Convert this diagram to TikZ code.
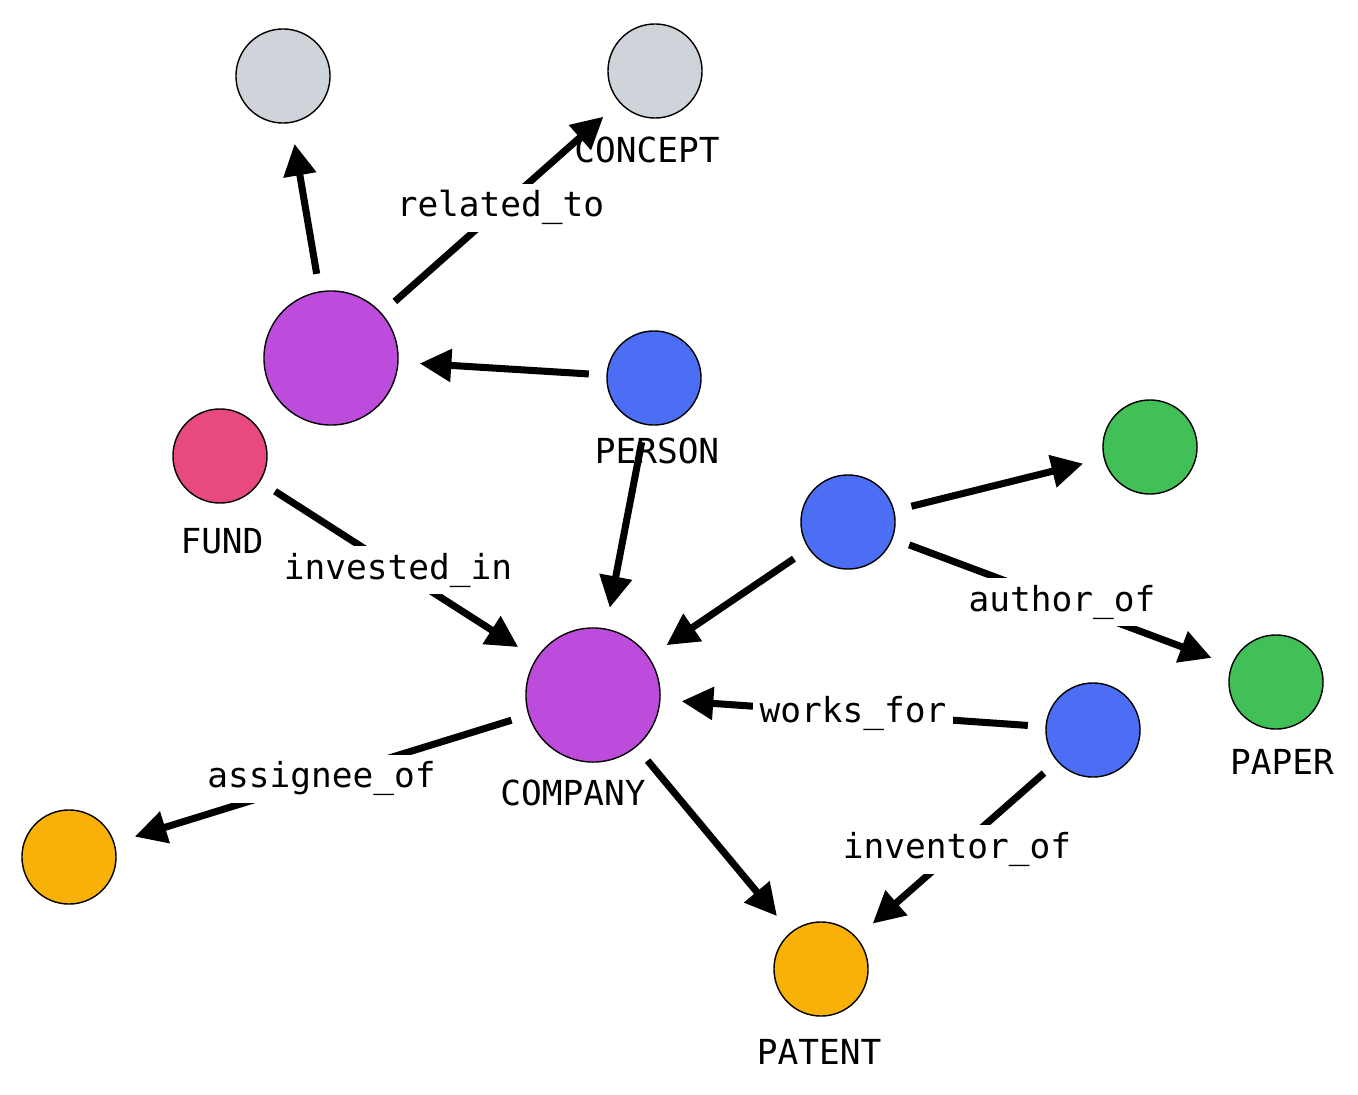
\documentclass[tikz,border=0pt]{standalone}
\usepackage{fontspec}
\setmonofont{DejaVu Sans Mono}
\usetikzlibrary{arrows.meta}
\definecolor{cgray}{HTML}{CFD4DA}
\definecolor{cpurple}{HTML}{BD4BDB}
\definecolor{cblue}{HTML}{4B6EF5}
\definecolor{cred}{HTML}{E84A7E}
\definecolor{cgreen}{HTML}{41C057}
\definecolor{corange}{HTML}{F9B007}
\tikzset{
  ent/.style={circle, draw=black, thin, minimum size=0.94cm, inner sep=0pt},
  big/.style={ent, minimum size=1.34cm},
  tag/.style={font=\ttfamily\fontsize{9.8}{12}\selectfont, inner sep=1pt},
  lbl/.style={tag, fill=white, inner sep=2pt},
  rel/.style={line width=2pt, -{Triangle[length=9pt,width=9pt]},
    shorten <=5pt, shorten >=6pt}
}
\begin{document}
\begin{tikzpicture}[x=0.01cm,y=-0.01cm]
    \useasboundingbox (0,0) rectangle (1358,1094);

    % entities
    \node[ent, fill=cgray] (topic) at (283,76) {};
    \node[ent, fill=cgray] (concept) at (655,71) {};
    \node[big, fill=cpurple] (lab) at (331,358) {};
    \node[ent, fill=cblue] (person) at (654,378) {};
    \node[ent, fill=cred] (fund) at (220,456) {};
    \node[big, fill=cpurple] (company) at (593,695) {};
    \node[ent, fill=cblue] (author) at (848,522) {};
    \node[ent, fill=cgreen] (venue) at (1150,447) {};
    \node[ent, fill=cgreen] (paper) at (1276,682) {};
    \node[ent, fill=cblue] (inventor) at (1093,730) {};
    \node[ent, fill=corange] (patentb) at (69,857) {};
    \node[ent, fill=corange] (patent) at (821,969) {};

    % type tags
    \node[tag] (tconcept) at (647,150) {CONCEPT};
    \node[tag] (tperson) at (657,451) {PERSON};
    \node[tag] (tfund) at (222,541) {FUND};
    \node[tag] (tcompany) at (573,793) {COMPANY};
    \node[tag] (tpaper) at (1282,762) {PAPER};
    \node[tag] (tpatent) at (819,1052) {PATENT};

    % relations
    \draw[rel] (lab) -- (topic);
    \draw[rel] (lab) -- node[lbl] (lrel) {related\_to} (concept);
    \draw[rel] (person) -- (lab);
    \draw[rel] (fund) -- node[lbl] (linv) {invested\_in} (company);
    \draw[rel] (person) -- (company);
    \draw[rel] (author) -- (company);
    \draw[rel] (author) -- (venue);
    \draw[rel] (author) -- node[lbl] (lauth) {author\_of} (paper);
    \draw[rel] (inventor) -- node[lbl] (lwork) {works\_for} (company);
    \draw[rel] (inventor) -- node[lbl] (linvt) {inventor\_of} (patent);
    \draw[rel] (company) -- node[lbl] (lass) {assignee\_of} (patentb);
    \draw[rel] (company) -- (patent);
\end{tikzpicture}
\end{document}
